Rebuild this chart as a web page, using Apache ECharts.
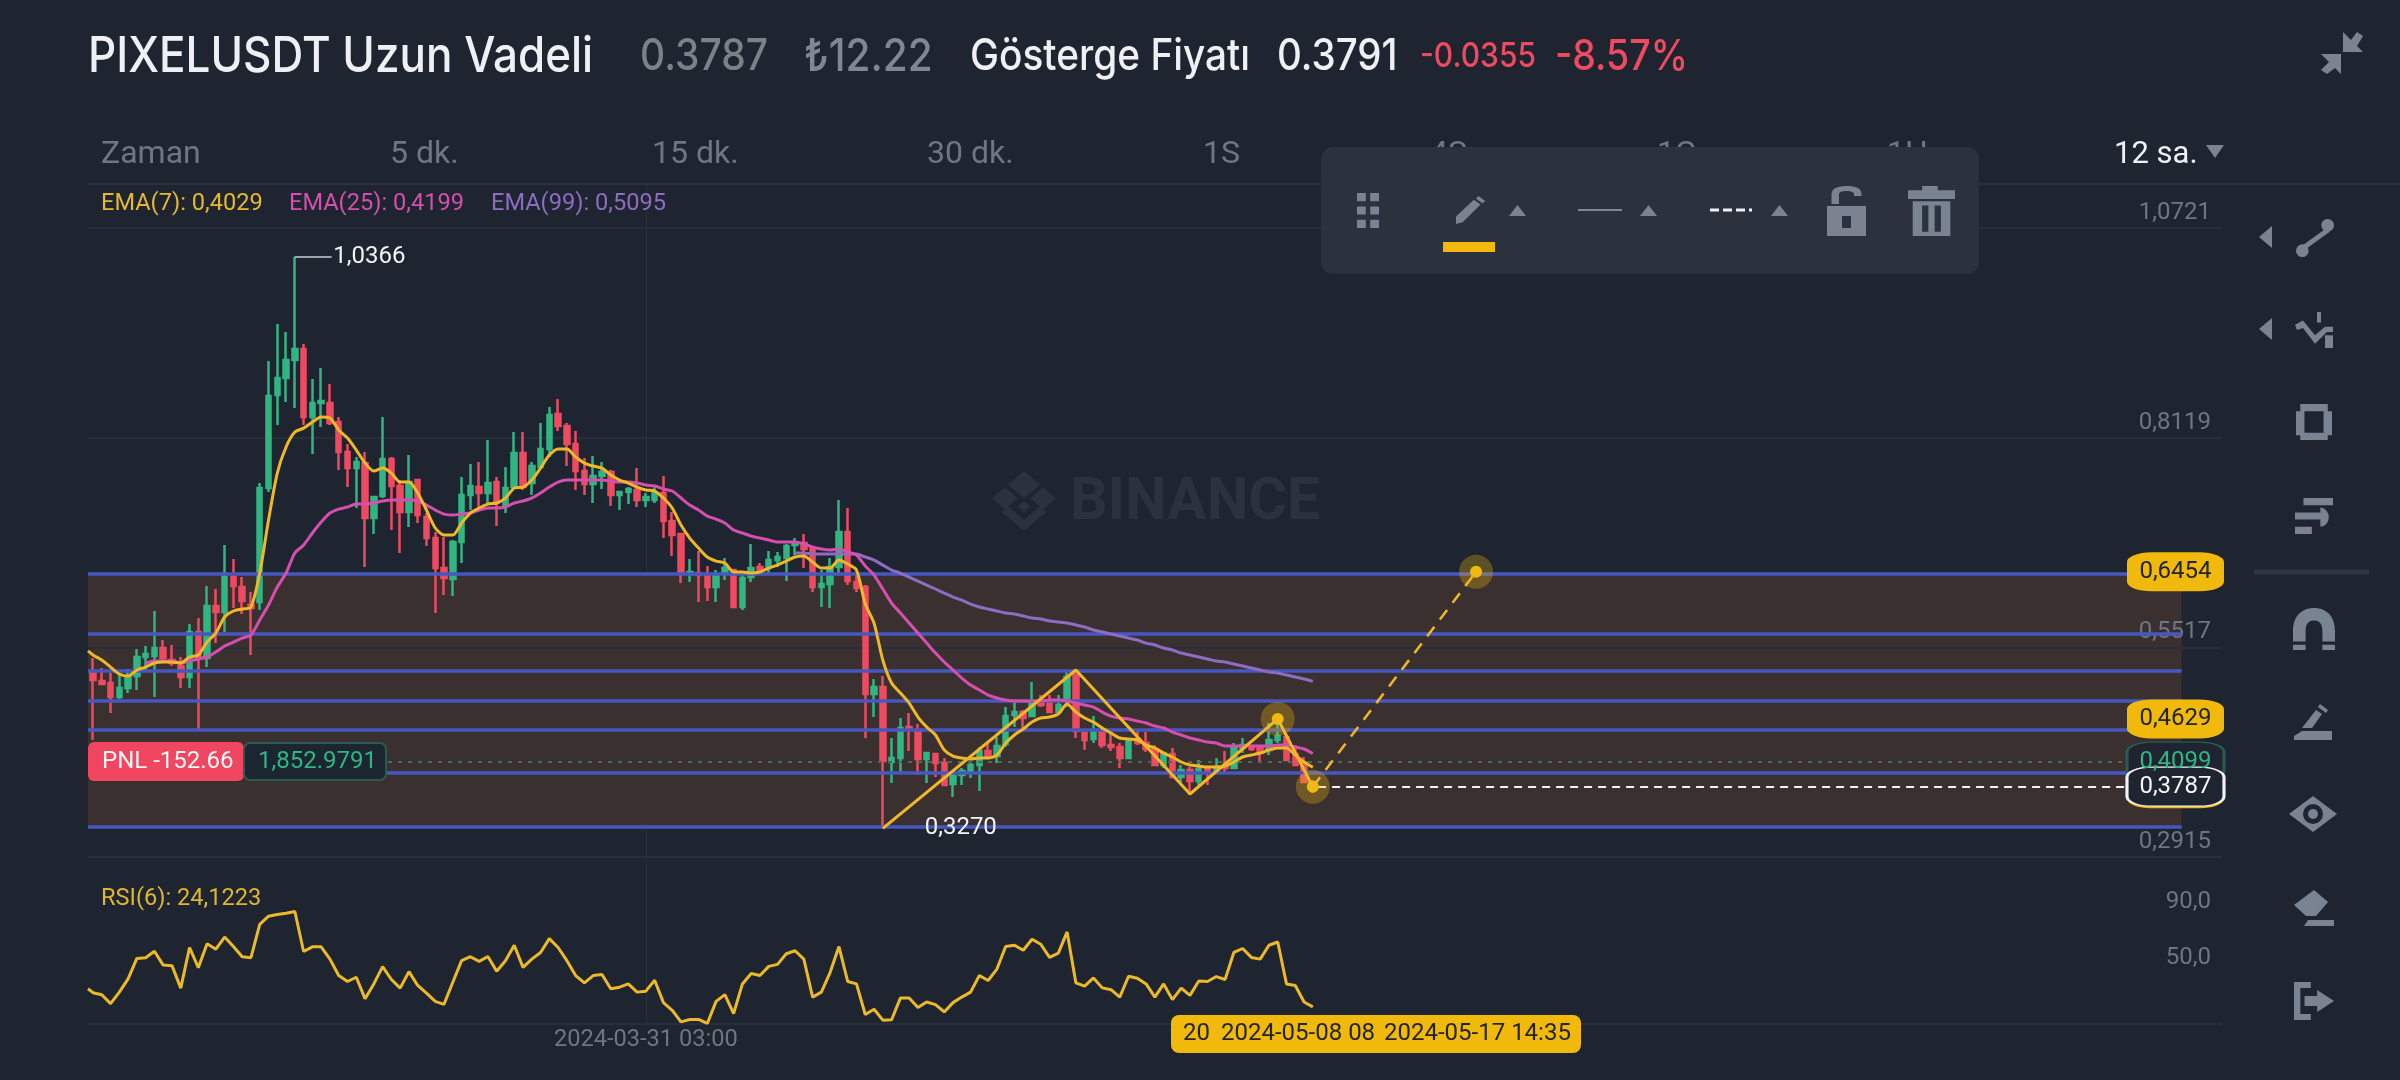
<!DOCTYPE html>
<html>
<head>
<meta charset="utf-8">
<title>PIXELUSDT</title>
<style>html,body{margin:0;height:100%;background:#1e2530}#main{width:2400px;height:1080px}</style>
<script src="https://cdn.jsdelivr.net/npm/echarts@6/dist/echarts.min.js"></script>
</head>
<body>
<div id="main"></div>
<script>
// 12h candles: open, close, low, high
var candles = [
[.5223,.5111,.4367,.5384],[.5099,.5061,.5049,.5260],[.5074,.4900,.4702,.5198],[.4900,.5012,.4875,.5173],[.5012,.5161,.4950,.5248],
[.5161,.5397,.4987,.5496],[.5397,.5434,.5235,.5533],[.5409,.5508,.4900,.5968],[.5508,.5384,.5359,.5608],[.5359,.5322,.5285,.5546],
[.5285,.5149,.5012,.5397],[.5149,.5707,.5012,.5806],[.5707,.5384,.4491,.5881],[.5384,.6030,.5272,.6278],[.6030,.5955,.5570,.6241],
[.5955,.6389,.5707,.6787],[.6389,.6278,.6005,.6613],[.6265,.6092,.5930,.6389],[.6042,.6005,.5422,.6203],[.6079,.7494,.5980,.7556],
[.7494,.8636,.7444,.9070],[.8648,.8859,.8276,.9529],[.8859,.9082,.8561,.9430],[.9082,.9219,.8487,1.0366],[.9219,.8375,.8276,.9281],
[.8375,.8549,.7916,.8847],[.8549,.8574,.8251,.8983],[.8549,.8301,.8276,.8785],[.8313,.7941,.7717,.8375],[.7941,.7742,.7506,.8040],
[.7742,.7817,.7246,.7879],[.7804,.7122,.6514,.7941],[.7122,.7382,.6923,.7382],[.7395,.7854,.7370,.8375],[.7854,.7519,.6973,.7879],
[.7519,.7196,.6687,.7593],[.7196,.7568,.7010,.7903],[.7593,.7159,.7060,.7593],[.7134,.6873,.6774,.7184],[.6873,.6501,.5943,.6948],
[.6501,.6377,.6166,.6886],[.6365,.6824,.6154,.6849],[.6824,.7407,.6563,.7630],[.7407,.7519,.7221,.7792],[.7506,.7432,.7258,.7817],
[.7432,.7556,.7308,.8090],[.7568,.7308,.7022,.7630],[.7283,.7494,.7184,.7755],[.7506,.7928,.7494,.8189],[.7928,.7506,.7469,.8189],
[.7556,.7767,.7407,.7817],[.7755,.7978,.7755,.8301],[.7978,.8400,.7879,.8499],[.8412,.8263,.8201,.8598],[.8263,.8040,.7767,.8301],
[.8040,.7705,.7469,.8201],[.7705,.7544,.7407,.7866],[.7544,.7643,.7308,.7891],[.7643,.7692,.7482,.7817],[.7692,.7407,.7270,.7717],
[.7407,.7444,.7221,.7457],[.7444,.7482,.7295,.7506],[.7469,.7345,.7258,.7742],[.7345,.7382,.7258,.7432],[.7345,.7432,.7308,.7506],
[.7432,.7084,.6873,.7643],[.7084,.6911,.6650,.7196],[.6923,.6439,.6315,.6936],[.6427,.6452,.6327,.6613],[.6439,.6414,.6079,.6712],
[.6414,.6265,.6092,.6526],[.6265,.6414,.6079,.6476],[.6427,.6501,.6352,.6625],[.6476,.6017,.6017,.6489],[.6017,.6377,.5980,.6452],
[.6389,.6501,.6327,.6799],[.6514,.6452,.6439,.6563],[.6501,.6600,.6439,.6712],[.6600,.6638,.6514,.6700],[.6625,.6774,.6340,.6799],
[.6787,.6811,.6662,.6873],[.6811,.6737,.6501,.6923],[.6737,.6265,.6203,.6737],[.6265,.6303,.6017,.6476],[.6303,.6514,.6005,.6625],
[.6514,.6948,.6439,.7345],[.6948,.6340,.6290,.7246],[.6327,.6253,.6203,.6414],[.6265,.4938,.4392,.6290],[.4938,.5024,.4652,.5124],
[.5024,.4106,.3270,.5161],[.4094,.4143,.3833,.4392],[.4143,.4516,.3957,.4640],[.4528,.4491,.4230,.4702],[.4491,.4131,.3932,.4565],
[.4131,.4205,.3833,.4218],[.4193,.4081,.3907,.4205],[.4081,.3808,.3808,.4143],[.3821,.3920,.3659,.3957],[.3932,.3982,.3808,.4019],
[.3982,.4056,.3895,.4094],[.4056,.4230,.3734,.4280],[.4230,.4156,.4156,.4342],[.4168,.4292,.4081,.4404],[.4317,.4664,.4280,.4776],
[.4677,.4714,.4528,.4838],[.4714,.4640,.4516,.4739],[.4664,.4826,.4652,.5086],[.4838,.4801,.4776,.4925],[.4826,.4714,.4702,.4925],
[.4714,.4801,.4714,.4925],[.4863,.5149,.4776,.5210],[.5173,.4478,.4392,.5235],[.4453,.4367,.4243,.4453],[.4379,.4466,.4329,.4664],
[.4478,.4305,.4267,.4516],[.4305,.4280,.4230,.4453],[.4280,.4143,.4019,.4329],[.4143,.4354,.4143,.4367],[.4379,.4329,.4305,.4491],
[.4329,.4255,.4218,.4466],[.4255,.4056,.4044,.4305],[.4056,.4205,.4019,.4218],[.4193,.3907,.3895,.4267],[.3907,.3994,.3808,.4056],
[.3994,.3858,.3684,.4031],[.3858,.4007,.3808,.4118],[.4019,.3970,.3808,.4031],[.3994,.4031,.3970,.4143],[.4044,.4019,.3970,.4230],
[.4019,.4267,.4019,.4329],[.4267,.4305,.4205,.4392],[.4292,.4255,.4230,.4305],[.4267,.4205,.4081,.4280],[.4243,.4367,.4180,.4578],
[.4367,.4416,.4329,.4553],[.4404,.4118,.4118,.4416],[.4193,.4056,.4044,.4305],[.4081,.3845,.3833,.4156],[.3845,.3787,.3709,.3870]
];
var ema7 = [
.5422,.5359,.5272,.5186,.5161,.5235,.5272,.5322,.5335,.5335,.5322,.5397,.5422,.5583,.5694,.5893,.5968,.5992,.6017,.6439,
.7097,.7680,.8003,.8189,.8238,.8313,.8375,.8363,.8214,.8114,.7966,.7804,.7705,.7742,.7680,.7568,.7568,.7432,.7221,.6998,
.6911,.6911,.7060,.7184,.7246,.7295,.7308,.7370,.7494,.7506,.7593,.7742,.7903,.7978,.7978,.7879,.7804,.7767,.7742,.7655,
.7593,.7556,.7506,.7469,.7457,.7370,.7246,.7035,.6873,.6749,.6638,.6588,.6563,.6452,.6452,.6439,.6452,.6501,.6538,.6588,
.6638,.6650,.6575,.6501,.6501,.6600,.6551,.6476,.6054,.5818,.5359,.5074,.4950,.4826,.4652,.4528,.4429,.4243,.4168,.4143,
.4131,.4143,.4143,.4180,.4329,.4429,.4503,.4590,.4640,.4652,.4689,.4813,.4714,.4640,.4590,.4516,.4453,.4392,.4379,.4367,
.4305,.4267,.4205,.4156,.4094,.4056,.4044,.4031,.4031,.4044,.4094,.4156,.4180,.4205,.4243,.4267,.4267,.4180,.4094,.4029
];
var ema7AtLeftEdge = .5472;
var ema25Start = 6;
var ema25 = [
.5322,.5347,.5347,.5347,.5322,.5347,.5372,.5397,.5459,.5533,.5583,.5632,.5670,.5856,.6042,.6265,.6439,.6687,.6787,.6936,
.7072,.7184,.7233,.7258,.7295,.7295,.7308,.7333,.7345,.7345,.7345,.7333,.7283,.7221,.7171,.7159,.7171,.7184,.7221,.7246,
.7246,.7258,.7308,.7333,.7370,.7432,.7506,.7568,.7593,.7593,.7593,.7593,.7593,.7581,.7568,.7568,.7556,.7531,.7519,.7482,
.7457,.7370,.7283,.7221,.7146,.7109,.7060,.6973,.6936,.6898,.6873,.6849,.6824,.6824,.6824,.6799,.6762,.6737,.6725,.6737,
.6700,.6663,.6526,.6414,.6241,.6067,.5943,.5818,.5694,.5570,.5446,.5335,.5235,.5136,.5049,.4987,.4925,.4888,.4863,.4851,
.4851,.4851,.4851,.4863,.4863,.4851,.4826,.4801,.4776,.4714,.4664,.4640,.4627,.4602,.4578,.4540,.4516,.4466,.4429,.4392,
.4367,.4342,.4329,.4292,.4292,.4292,.4292,.4292,.4292,.4305,.4305,.4280,.4255,.4199
];
var ema99Start = 80;
var ema99 = [
.6687,.6687,.6675,.6675,.6675,.6675,.6675,.6675,.6638,.6600,.6538,.6476,.6439,.6389,.6340,.6290,.6241,.6191,.6141,.6104,
.6054,.6017,.5992,.5968,.5943,.5930,.5906,.5881,.5868,.5844,.5831,.5818,.5794,.5769,.5732,.5707,.5682,.5657,.5632,.5608,
.5570,.5546,.5508,.5484,.5446,.5422,.5397,.5372,.5347,.5335,.5310,.5285,.5260,.5235,.5210,.5198,.5173,.5149,.5124,.5095
];
var rsi6 = [
34.1,32.7,26.4,34.5,43.9,58.3,58.8,63.4,53.6,53.2,37.3,66.0,51.8,68.6,64.8,73.4,66.7,59.5,58.8,82.3,
88.1,89.3,90.2,91.4,63.2,66.5,66.5,57.8,46.2,42.0,45.0,29.9,40.3,52.5,43.4,37.3,49.0,39.2,33.8,28.0,
25.9,41.5,56.7,59.5,56.2,59.7,49.2,56.7,67.6,52.0,57.8,62.5,72.3,66.0,56.7,46.2,41.0,46.2,46.9,36.9,
38.0,40.3,34.5,35.2,42.9,27.1,21.7,13.5,15.2,15.2,12.4,28.0,32.7,19.4,40.3,47.6,46.2,52.7,54.1,61.6,
63.7,57.8,31.0,34.5,48.5,66.7,42.0,40.3,18.7,22.4,14.7,15.0,30.3,30.3,23.6,27.5,25.7,20.5,27.1,31.0,
34.5,46.2,42.7,50.8,66.7,67.6,64.1,71.8,68.3,59.0,62.0,77.0,41.0,38.7,44.5,37.5,36.2,31.0,45.7,44.3,
40.3,31.0,40.3,29.2,37.3,32.2,42.4,42.0,45.5,43.4,62.5,65.3,59.0,57.8,67.6,69.9,40.3,39.2,27.5,24.12
];
var rsiAtLeftEdge = 36.9;
// horizontal levels drawn by the user, top to bottom
var levels = [.6427, .5682, .5223, .4851, .4491, .3957, .3287];
var priceTicks = [1.0721, .8119, .5517, .2915];
var rsiTicks = [90, 50];
// trend drawing: [candle index, price]
var zigzag = [[90,.3270],[112,.5236],[125,.3697],[135,.4629],[139,.3787]];
var projection = [[139,.3787],[157.6,.6454]];
var timeTickIndex = 63;
var timeTickLabel = '2024-03-31 03:00';

var bg = '#1e2530', gridCol = '#282f3a', gray = '#6f7683', iconCol = '#7a8392';
var green = '#30b583', red = '#ee4a60', yellow = '#f0b90b', blue = '#4658c0';
var ff = 'Roboto', headFF = 'Inter';
var xMin = -0.57, xMax = 242.6;
var comma = function (s) { return String(s).replace('.', ','); };

function txt(text, x, y, size, fill, o) {
  return Object.assign({ type: 'text', x: x, y: y, z: 60, style: { text: text, fontSize: size, fontFamily: ff, fill: fill, verticalAlign: 'middle' } }, o || {});
}
function head(text, x, size, fill) {
  var t = txt(text, x, 57, size, fill, { scaleY: 1.12 });
  t.style.fontFamily = headFF;
  t.style.fontWeight = 500;
  return t;
}
function box(x, y, w, h, fill, r, o) {
  return Object.assign({ type: 'rect', z: 55, shape: { x: x, y: y, width: w, height: h, r: r || 0 }, style: { fill: fill } }, o || {});
}
// graphic has no path element, so each icon gets its own registered shape, stretched into its box
var iconCount = 0;
function icon(d, x, y, w, h, fill) {
  var name = 'icon' + (iconCount++);
  var Clz = echarts.graphic.extendPath(d, {});
  echarts.graphic.registerShape(name, Clz);
  var b = new Clz().getBoundingRect();
  return {
    type: name, z: 72, scaleX: w / b.width, scaleY: h / b.height,
    x: x - b.x * w / b.width,
    y: y - b.y * h / b.height,
    style: { fill: fill || iconCol }
  };
}
var triUp = 'M5 0L10 10H0Z', triLeft = 'M10 0V14L0 7Z', triDown = 'M0 0H10L5 10Z';

var chrome = [
  head('PIXELUSDT Uzun Vadeli', 88, 44, '#eef0f4'),
  head('0.3787', 640, 39, '#7c8087'),
  head('₺12.22', 804, 40.5, '#7f8794'),
  head('Gösterge Fiyatı', 970, 38.8, '#eef0f4'),
  head('0.3791', 1277, 38.5, '#eef0f4'),
  head('-0.0355', 1420, 30, red),
  head('-8.57%', 1555, 37.5, red),
  icon('M22 20H42L36 14L42 4L36 0L30 8L22 0ZM0 22H20V42L14 36L6 42L0 38L8 30Z', 2321, 32, 42, 42),

  txt('Zaman', 101, 155, 32, gray),
  txt('5 dk.', 390, 155, 32, gray),
  txt('15 dk.', 652, 155, 32, gray),
  txt('30 dk.', 927, 155, 32, gray),
  txt('1S', 1203, 155, 32, gray),
  txt('4S', 1430, 155, 32, gray),
  txt('1G', 1657, 155, 32, gray),
  txt('1H', 1887, 155, 32, gray),
  txt('12 sa.', 2114, 155, 31, '#eef0f4'),
  icon(triDown, 2206, 145, 18, 13),
  { type: 'line', z: 10, shape: { x1: 88, y1: 184, x2: 2400, y2: 184 }, style: { stroke: '#2c333e', lineWidth: 2 } },

  txt('EMA(7): 0,4029', 101, 204, 23.6, '#e6b82e'),
  txt('EMA(25): 0,4199', 289, 204, 23.6, '#d64fae'),
  txt('EMA(99): 0,5095', 491, 204, 23.6, '#8e6cc2'),
  txt('RSI(6): 24,1223', 101, 899, 23.6, '#e0b530'),

  // watermark
  Object.assign(icon('M20 0L30 10L20 20L10 10ZM8 12L16 20L8 28L0 20ZM32 12L40 20L32 28L24 20ZM20 22L24 26L20 30L16 26ZM6 30L10 26L20 36L30 26L34 30L20 44Z', 992, 471, 64, 60, '#2b323d'), { z: 0 }),
  { type: 'text', z: 0, x: 1070, y: 504, style: { text: 'BINANCE', fontSize: 59, fontWeight: 700, fontFamily: ff, fill: '#2b323d', verticalAlign: 'middle' } },

  // floating toolbar
  box(1321, 147, 658, 127, '#2b323e', 12, { z: 70 }),
  icon('M0 0H8V8H0ZM12 0H20V8H12ZM0 13H8V21H0ZM12 13H20V21H12ZM0 26H8V34H0ZM12 26H20V34H12Z', 1357, 193, 22, 35),
  icon('M16 4L22 9L6 28L0 30V22ZM20 0L26 5L24 8L18 3Z', 1456, 196, 29, 28),
  box(1443, 242, 52, 10, yellow, 0, { z: 71 }),
  icon(triUp, 1509, 205, 17, 11), icon(triUp, 1640, 205, 17, 11), icon(triUp, 1771, 205, 17, 11),
  { type: 'line', z: 72, shape: { x1: 1578, y1: 210, x2: 1622, y2: 210 }, style: { stroke: '#7f8794', lineWidth: 2 } },
  { type: 'line', z: 72, shape: { x1: 1710, y1: 210, x2: 1752, y2: 210 }, style: { stroke: '#eef0f4', lineWidth: 3, lineDash: [9, 4] } },
  icon('M0 20H26V50H0ZM3 18V8C3 2 8 0 13 0C19 0 23 2 23 8V10H18V8C18 6 16 5 13 5C10 5 8 6 8 8V18ZM10 30V42H16V30Z', 1827, 186, 39, 50),
  icon('M3 8H12V4H22V8H33V16H3ZM6 18H30V50H6ZM12 22V46H16V22ZM20 22V46H24V22Z', 1908, 186, 47, 50),

  // right rail
  icon(triLeft, 2259, 226, 13, 22),
  icon('M30 0A6 6 0 1 1 30 12A6 6 0 1 1 30 0ZM6 24A6 6 0 1 1 6 36A6 6 0 1 1 6 24ZM27 10L32 12L10 28L6 25Z', 2296, 219, 38, 38),
  icon(triLeft, 2259, 318, 13, 22),
  icon('M0 12L8 8L20 22L30 14H38V19H32L20 30L8 15L2 17ZM22 0H26V10H22ZM30 22H38V34H30Z', 2295, 312, 38, 36),
  icon('M4 4H30V10H34V30H30V34H4V30H0V10H4ZM8 10V28H26V10Z', 2296, 404, 36, 36),
  icon('M8 0H36V6H8ZM0 12H24V18H0ZM0 24H16V30H0ZM24 8A4 4 0 1 1 24 24Z', 2295, 498, 38, 36),
  { type: 'line', z: 10, shape: { x1: 2254, y1: 572, x2: 2369, y2: 572 }, style: { stroke: '#2f3641', lineWidth: 5 } },
  icon('M0 22C0 8 8 0 20 0C32 0 40 8 40 22V32H28V22C28 16 26 12 20 12C14 12 12 16 12 22V32H0ZM0 35H12V40H0ZM28 35H40V40H28Z', 2293, 608, 42, 42),
  icon('M22 6L28 10L18 24H8ZM26 0L34 6L32 9L24 3ZM8 27H38V36H0V32Z', 2294, 704, 38, 36),
  icon('M24 0L48 18L24 36L0 18ZM24 8A10 10 0 1 0 24 28A10 10 0 1 0 24 8ZM24 13A5 5 0 1 1 24 23A5 5 0 1 1 24 13Z', 2289, 796, 48, 36),
  icon('M20 0L34 12L22 26H12L0 15ZM14 30H40V36H10Z', 2294, 890, 40, 36),
  icon('M0 0H16V6H6V32H16V38H0ZM22 8L38 19L22 30V24H10V14H22Z', 2294, 982, 40, 38),

  // position tag on the left
  box(88, 742, 156, 39, '#f0465f', 6),
  box(244, 743, 142, 37, '#1b2631', 6, { style: { fill: '#1b2631', stroke: '#2a5a50', lineWidth: 2 } }),
  txt('PNL -152.66', 102, 762, 24, '#f7f7f7'),
  txt('1,852.9791', 258, 762, 24, green),

  // crosshair time tag
  box(1171, 1015, 410, 38, '#f0b90b', 8),
  txt('20', 1183, 1034, 24, '#22252b'),
  txt('2024-05-08 08', 1221, 1034, 24, '#22252b'),
  txt('2024-05-17 14:35', 1384, 1034, 24, '#22252b')
];

function priceTag(v, fill, stroke, color) {
  return {
    coord: [237.3, v], symbol: 'roundRect', symbolSize: [97, 39],
    itemStyle: { color: fill, borderColor: stroke, borderWidth: stroke === 'none' ? 0 : 2 },
    label: { show: !!color, position: 'inside', formatter: comma(v.toFixed(4)), color: color, fontFamily: ff, fontSize: 24 }
  };
}
function noteLabel(x, v, text) {
  return {
    coord: [x, v], symbol: 'circle', symbolSize: 1, itemStyle: { color: 'rgba(0,0,0,0)' },
    label: { show: true, position: 'right', distance: 1, formatter: text, color: '#f2f3f5', fontFamily: ff, fontSize: 24 }
  };
}
function handle(x, v) {
  return [
    { coord: [x, v], symbol: 'circle', symbolSize: 34, itemStyle: { color: 'rgba(240,185,11,.3)' }, label: { show: false } },
    { coord: [x, v], symbol: 'circle', symbolSize: 12, itemStyle: { color: yellow }, label: { show: false } }
  ];
}
var levelLines = levels.map(function (v) {
  return [{ coord: [xMin, v] }, { coord: [238, v] }];
});

var candleData = candles.map(function (c, i) { return [i, c[0], c[1], c[2], c[3]]; });
var withIndex = function (arr, start) {
  return arr.map(function (v, i) { return [i + start, v]; });
};
var emaLine = function (name, data, color) {
  return { name: name, type: 'line', z: 6, data: data, showSymbol: false, smooth: 0.25, lineStyle: { color: color, width: 3 }, silent: true };
};

var chart = echarts.init(document.getElementById('main'));
chart.setOption({
  animation: false,
  backgroundColor: bg,
  textStyle: { fontFamily: ff },
  graphic: { elements: chrome },
  grid: [
    { left: 88, right: 178, top: 185, height: 672 },
    { left: 88, right: 178, top: 857, height: 167 }
  ],
  xAxis: [
    { type: 'value', gridIndex: 0, min: xMin, max: xMax, axisLine: { show: false }, axisLabel: { show: false },
      axisTick: { show: false, customValues: [timeTickIndex] }, splitLine: { show: true, lineStyle: { color: gridCol, width: 1 } } },
    { type: 'value', gridIndex: 1, min: xMin, max: xMax, axisLine: { show: true, onZero: false, lineStyle: { color: gridCol, width: 2 } },
      axisTick: { show: false, customValues: [timeTickIndex] },
      axisLabel: { customValues: [timeTickIndex], formatter: function () { return timeTickLabel; }, color: gray, fontSize: 23.6, margin: 4, fontFamily: ff },
      splitLine: { show: true, lineStyle: { color: gridCol, width: 1 } } }
  ],
  yAxis: [
    { type: 'value', gridIndex: 0, z: 1.5, position: 'right', min: .2915, max: 1.1255, axisLine: { show: false },
      axisTick: { show: false, customValues: priceTicks },
      axisLabel: { inside: true, customValues: priceTicks, showMinLabel: true, showMaxLabel: true, margin: 11, verticalAlign: 'bottom', padding: [0, 0, 3, 0], color: gray, fontSize: 24, fontFamily: ff,
        formatter: function (v) { return comma(v.toFixed(4)); } },
      splitLine: { show: true, lineStyle: { color: gridCol, width: 2 } } },
    { type: 'value', gridIndex: 1, position: 'right', min: 12, max: 129.9, axisLine: { show: false },
      axisTick: { show: false, customValues: rsiTicks },
      axisLabel: { inside: true, customValues: rsiTicks, margin: 11, verticalAlign: 'bottom', color: gray, fontSize: 24, fontFamily: ff,
        formatter: function (v) { return comma(v.toFixed(1)); } },
      splitLine: { show: false } }
  ],
  series: [
    {
      name: 'levels', type: 'line', data: [], z: 3, silent: true,
      markArea: { silent: true, z: 1, itemStyle: { color: '#3a3030' }, data: [[{ coord: [xMin, levels[0]] }, { coord: [238, levels[levels.length - 1]] }]] },
      markLine: { silent: true, z: 3, symbol: 'none', label: { show: false }, lineStyle: { color: blue, width: 3.5, type: 'solid' }, data: levelLines }
    },
    {
      name: 'PIXELUSDT', type: 'candlestick', z: 2, data: candleData, barWidth: 5, clip: true, silent: true,
      itemStyle: { color: green, color0: red, borderColor: green, borderColor0: red, borderWidth: 2.5 },
      markLine: {
        silent: true, symbol: 'none', z: 4, label: { show: false },
        data: [[{ coord: [23, 1.0366], lineStyle: { color: '#c9ccd1', width: 1.5, type: 'solid' } }, { coord: [27.2, 1.0366] }]]
      }
    },
    emaLine('EMA(99)', withIndex(ema99, ema99Start), '#8e6cc2'),
    emaLine('EMA(25)', withIndex(ema25, ema25Start), '#d64fae'),
    emaLine('EMA(7)', [[xMin, ema7AtLeftEdge]].concat(withIndex(ema7, 0)), '#f0b828'),
    {
      name: 'drawing', type: 'line', z: 7, data: zigzag, showSymbol: false, silent: true, lineStyle: { color: '#f0b828', width: 3 },
      markLine: {
        silent: true, symbol: 'none', z: 4, label: { show: false },
        data: [
          [{ coord: [xMin, .4099], lineStyle: { color: '#3f6f5c', width: 2, type: [4, 6] } }, { coord: [232, .4099] }],
          [{ coord: [139.6, .3787], lineStyle: { color: '#f2f3f5', width: 2, type: [8, 6] } }, { coord: [232, .3787] }]
        ]
      },
      markPoint: {
        silent: true,
        data: [].concat(
          handle(135, .4629), handle(139, .3787), handle(157.6, .6454),
          [
            noteLabel(27.2, 1.0366, '1,0366'),
            noteLabel(94.6, .3270, '0,3270'),
            priceTag(.6454, yellow, 'none', '#22252b'),
            priceTag(.4629, yellow, 'none', '#22252b'),
            priceTag(.4099, bg, '#2a5a50', green),
            priceTag(.3762, yellow, 'none', null),
            priceTag(.3787, bg, '#f2f3f5', '#f6f7f8')
          ]
        )
      }
    },
    { name: 'projection', type: 'line', z: 7, data: projection, showSymbol: false, silent: true, lineStyle: { color: '#f0b828', width: 2.5, type: [12, 9] } },
    { name: 'RSI(6)', type: 'line', xAxisIndex: 1, yAxisIndex: 1, data: [[xMin, rsiAtLeftEdge]].concat(withIndex(rsi6, 0)), showSymbol: false, silent: true, lineStyle: { color: '#ecb92a', width: 3 } }
  ]
});
</script>
</body>
</html>
